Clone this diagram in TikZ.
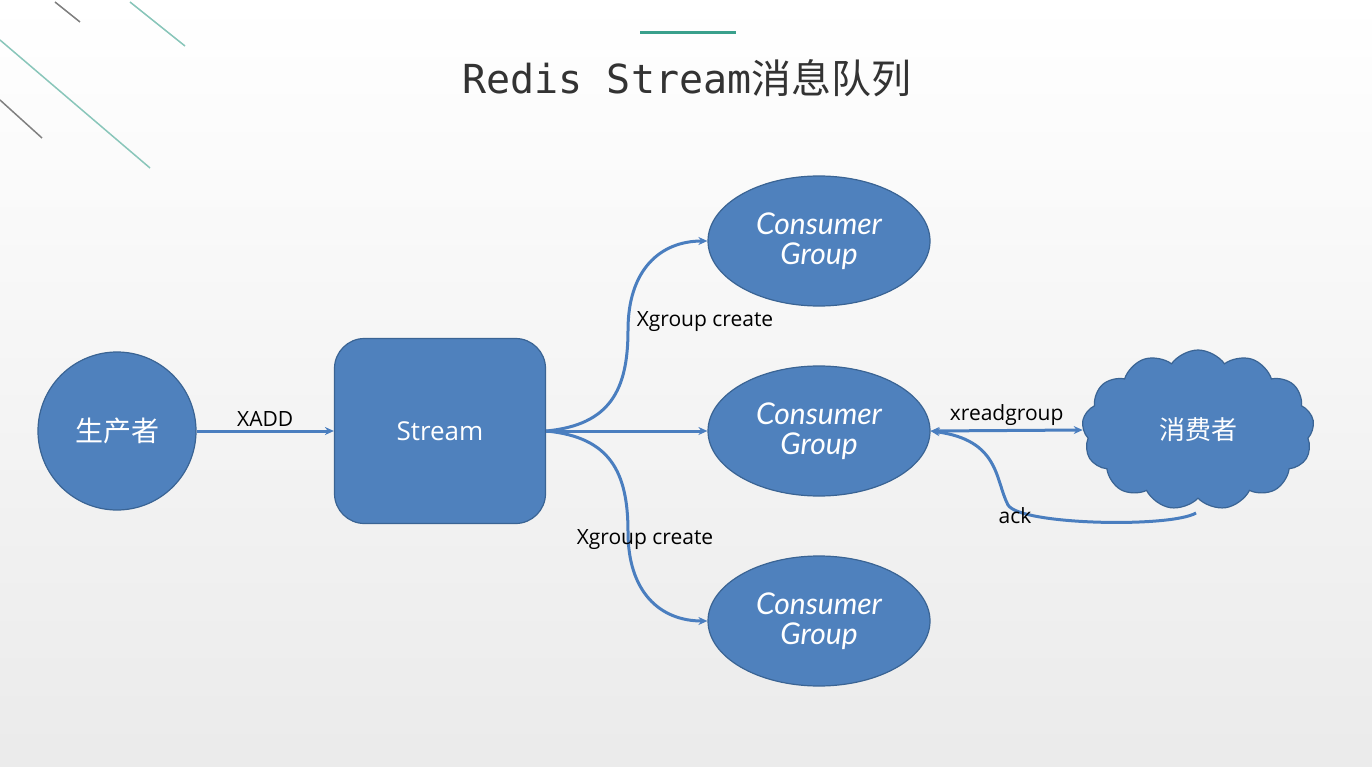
\documentclass[tikz,border=0pt]{standalone}
\usepackage{fontspec}
\setmainfont{Open Sans}
\newfontfamily\cjk{Noto Sans CJK SC}
\newfontfamily\mono{DejaVu Sans Mono}
\newfontfamily\scr{Lato}
\usetikzlibrary{shapes.symbols,shapes.geometric,arrows.meta}
\definecolor{blu}{HTML}{4F81BD}
\definecolor{bdr}{HTML}{3A6494}
\definecolor{lnk}{HTML}{4A7EBF}
\definecolor{teal}{HTML}{3AA08C}
\begin{document}
\begin{tikzpicture}[x=1pt,y=-1pt,
 shp/.style={fill=blu,draw=bdr,line width=1.2pt,text=white},
 cg/.style={shp,ellipse,minimum width=222pt,minimum height=130pt,align=center,font=\scr\itshape\fontsize{30}{30}\selectfont},
 arr/.style={draw=lnk,line width=3pt,-{Stealth[length=9pt,width=8pt]}},
 lbl/.style={font=\fontsize{21}{24}\selectfont,text=black}]
\shade[top color=white,bottom color=black!8] (0,0) rectangle (1372,767);
\useasboundingbox (0,0) rectangle (1372,767);
\draw[gray,line width=1.5pt] (55,2) -- (80,22);
\draw[teal!60,line width=1.5pt] (130,2) -- (185,46);
\draw[teal!60,line width=1.5pt] (0,40) -- (150,168);
\draw[gray,line width=1.5pt] (0,100) -- (42,138);
\draw[teal,line width=3pt] (640,33) -- (736,33);
\node[font=\mono\fontsize{40}{44}\selectfont,text=black!80] (title) at (687,78) {Redis Stream{\cjk 消息队列}};
\node[shp,circle,minimum size=158pt,font=\cjk\fontsize{28}{30}\selectfont] (p) at (117,431) {生产者};
\node[shp,rounded corners=30pt,minimum width=211pt,minimum height=185pt,font=\fontsize{26}{30}\selectfont] (s) at (440,431) {Stream};
\node[cg] (g1) at (819,241) {Consumer\\Group};
\node[cg] (g2) at (819,431) {Consumer\\Group};
\node[cg] (g3) at (819,621) {Consumer\\Group};
\node[shp,cloud,cloud puffs=13,cloud puff arc=110,aspect=1.6,minimum width=232pt,minimum height=160pt,font=\cjk\fontsize{26}{30}\selectfont] (c) at (1198,430) {消费者};
\path[arr] (p) -- node[lbl,above]{XADD} (s);
\path[arr] (s.east) -- (g2.west);
\path[arr] (s.east) .. controls (610,425) and (628,390) .. (628,330) .. controls (628,270) and (660,241) .. (g1.west);
\path[arr] (s.east) .. controls (610,437) and (628,472) .. (628,532) .. controls (628,592) and (660,621) .. (g3.west);
\node[lbl] (l1) at (705,322) {Xgroup create};
\node[lbl] (l2) at (645,540) {Xgroup create};
\path[arr,{Stealth[length=9pt,width=8pt]}-{Stealth[length=9pt,width=8pt]}] (g2.east) -- node[lbl,above]{xreadgroup} (c.west);
\coordinate (cb) at (1196,513);
\path[arr] (cb) .. controls (1170,528) and (1020,525) .. (1008,505) .. controls (995,480) and (1000,440) .. (g2.east);
\node[lbl] (l3) at (1015,516) {ack};
\end{tikzpicture}
\end{document}
